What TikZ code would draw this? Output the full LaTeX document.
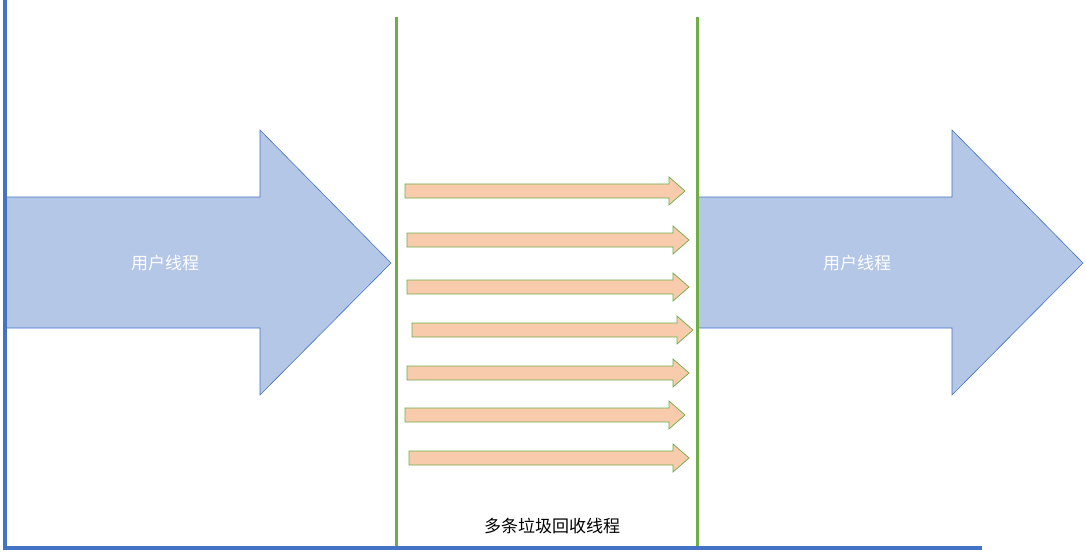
\documentclass[tikz,border=0pt]{standalone}
\usepackage{fontspec}
\newfontfamily\cjk{Noto Sans CJK SC}
\definecolor{bfill}{RGB}{180,199,231}
\definecolor{bline}{RGB}{68,114,196}
\definecolor{ofill}{RGB}{248,203,173}
\definecolor{gline}{RGB}{112,173,71}
\begin{document}
\begin{tikzpicture}[x=1pt,y=-1pt,
  big/.style={fill=bfill, draw=bline, line width=0.6pt},
  small/.style={fill=ofill, draw=gline, line width=0.7pt},
  lbl/.style={font=\cjk\fontsize{17}{20}\selectfont}]
\useasboundingbox (0,0) rectangle (1086,556);
\def\bigarrow#1#2#3{\draw[big] (#1,197) -- (#2,197) -- (#2,130) -- (#3,263) -- (#2,395) -- (#2,328) -- (#1,328) -- cycle;}
\bigarrow{5}{260}{391}
\bigarrow{698}{952}{1083}
\node[lbl, text=white] (u1) at (165,263) {用户线程};
\node[lbl, text=white] (u2) at (857,263) {用户线程};
\def\sarrow#1#2#3{\pgfmathsetmacro\h{#2-16}\draw[small] (#1,#3-7) -- (\h,#3-7) -- (\h,#3-14) -- (#2,#3) -- (\h,#3+14) -- (\h,#3+7) -- (#1,#3+7) -- cycle;}
\sarrow{405}{685}{191}
\sarrow{407}{689}{240}
\sarrow{407}{689}{287}
\sarrow{412}{693}{330}
\sarrow{407}{689}{373}
\sarrow{405}{685}{415}
\sarrow{409}{689}{458}
\draw[gline, line width=3pt] (396,17) -- (396,549);
\draw[gline, line width=3pt] (697,17) -- (697,549);
\draw[bline, line width=4pt] (5,0) -- (5,548) -- (982,548);
\node[lbl] (g) at (552,526) {多条垃圾回收线程};
\end{tikzpicture}
\end{document}
